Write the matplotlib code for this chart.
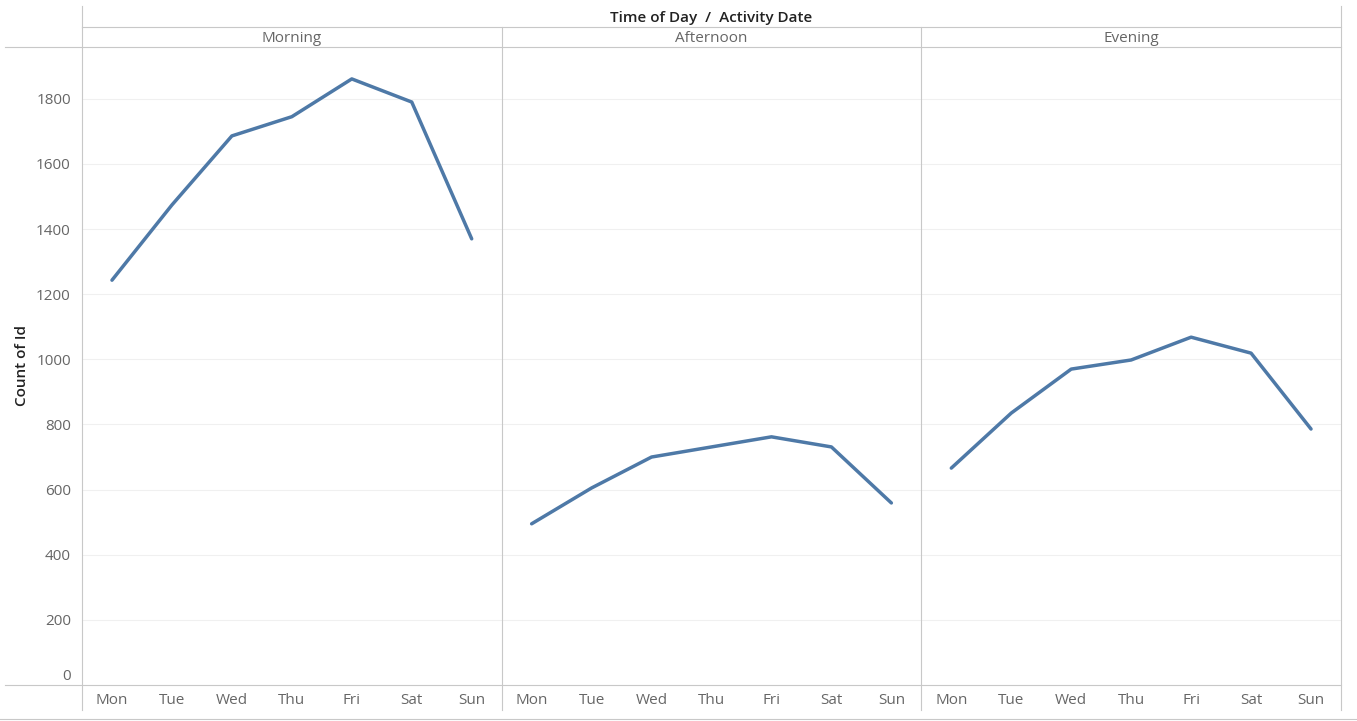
import matplotlib
matplotlib.use("Agg")
import matplotlib.pyplot as plt
from matplotlib.lines import Line2D
from matplotlib.transforms import ScaledTranslation

days = ["Mon", "Tue", "Wed", "Thu", "Fri", "Sat", "Sun"]
panels = ["Morning", "Afternoon", "Evening"]
morning = [1243, 1474, 1686, 1745, 1861, 1790, 1370]
afternoon = [495, 605, 700, 731, 762, 731, 559]
evening = [666, 835, 970, 998, 1068, 1019, 786]
series = [morning, afternoon, evening]

W, H = 1357, 721
fig = plt.figure(figsize=(W / 100, H / 100), dpi=100)
plt.rcParams["font.family"] = ["Open Sans", "DejaVu Sans"]

left, right, top, bottom = 82, 1341, 47, 685
pw = (right - left) / 3
line_color = "#4e79a7"
grid_c = "#f0f0f0"
border = "#c8c8c8"
text_c = "#666666"

for i, (name, vals) in enumerate(zip(panels, series)):
    x0 = left + i * pw
    ax = fig.add_axes([x0 / W, 1 - bottom / H, pw / W, (bottom - top) / H])
    ax.plot(range(7), vals, color=line_color, lw=2.5, solid_capstyle="round")
    ax.set_xlim(-0.5, 6.5)
    ax.set_ylim(0, 1959)
    ax.set_yticks(range(0, 1801, 200))
    ax.grid(axis="y", color=grid_c, lw=0.8)
    ax.set_axisbelow(True)
    ax.set_xticks(range(7))
    ax.set_xticklabels(days, fontsize=11, color=text_c)
    ax.tick_params(length=0, pad=6)
    if i == 0:
        ax.set_yticklabels([str(v) for v in range(0, 1801, 200)], fontsize=11, color=text_c)
        ax.tick_params(axis="y", pad=8)
        zero = ax.get_yticklabels()[0]
        zero.set_transform(zero.get_transform() + ScaledTranslation(0, 0.11, fig.dpi_scale_trans))
    else:
        ax.set_yticklabels([])
    for s in ["top", "right", "bottom"]:
        ax.spines[s].set_visible(False)
    ax.spines["left"].set_color(border)
    fig.text((x0 + pw / 2) / W, 1 - 39 / H, name, ha="center", va="center",
             fontsize=11, color=text_c)
    fig.add_artist(Line2D([x0 / W] * 2, [1 - 27 / H, 1 - top / H], color=border, lw=0.8))
    fig.add_artist(Line2D([x0 / W] * 2, [1 - bottom / H, 1 - 710 / H], color=border, lw=0.8))

fig.add_artist(Line2D([right / W] * 2, [1 - 6 / H, 1 - 710 / H], color=border, lw=0.8))
fig.add_artist(Line2D([left / W] * 2, [1 - 6 / H, 1 - 27 / H], color=border, lw=0.8))
fig.add_artist(Line2D([left / W, right / W], [1 - 27 / H] * 2, color=border, lw=0.8))
fig.add_artist(Line2D([5 / W, right / W], [1 - top / H] * 2, color=border, lw=0.8))
fig.add_artist(Line2D([5 / W, right / W], [1 - bottom / H] * 2, color=border, lw=0.8))
fig.add_artist(Line2D([0, 1], [1 - 719 / H] * 2, color=border, lw=0.8))

fig.text((left + right) / 2 / W, 1 - 18 / H, "Time of Day  /  Activity Date",
         ha="center", va="center", fontsize=11, color="#222222", fontweight="semibold")
fig.text(22 / W, 1 - 366 / H, "Count of Id", rotation=90, ha="center", va="center",
         fontsize=11, color="#222222", fontweight="semibold")

fig.savefig("out.png", dpi=100)
